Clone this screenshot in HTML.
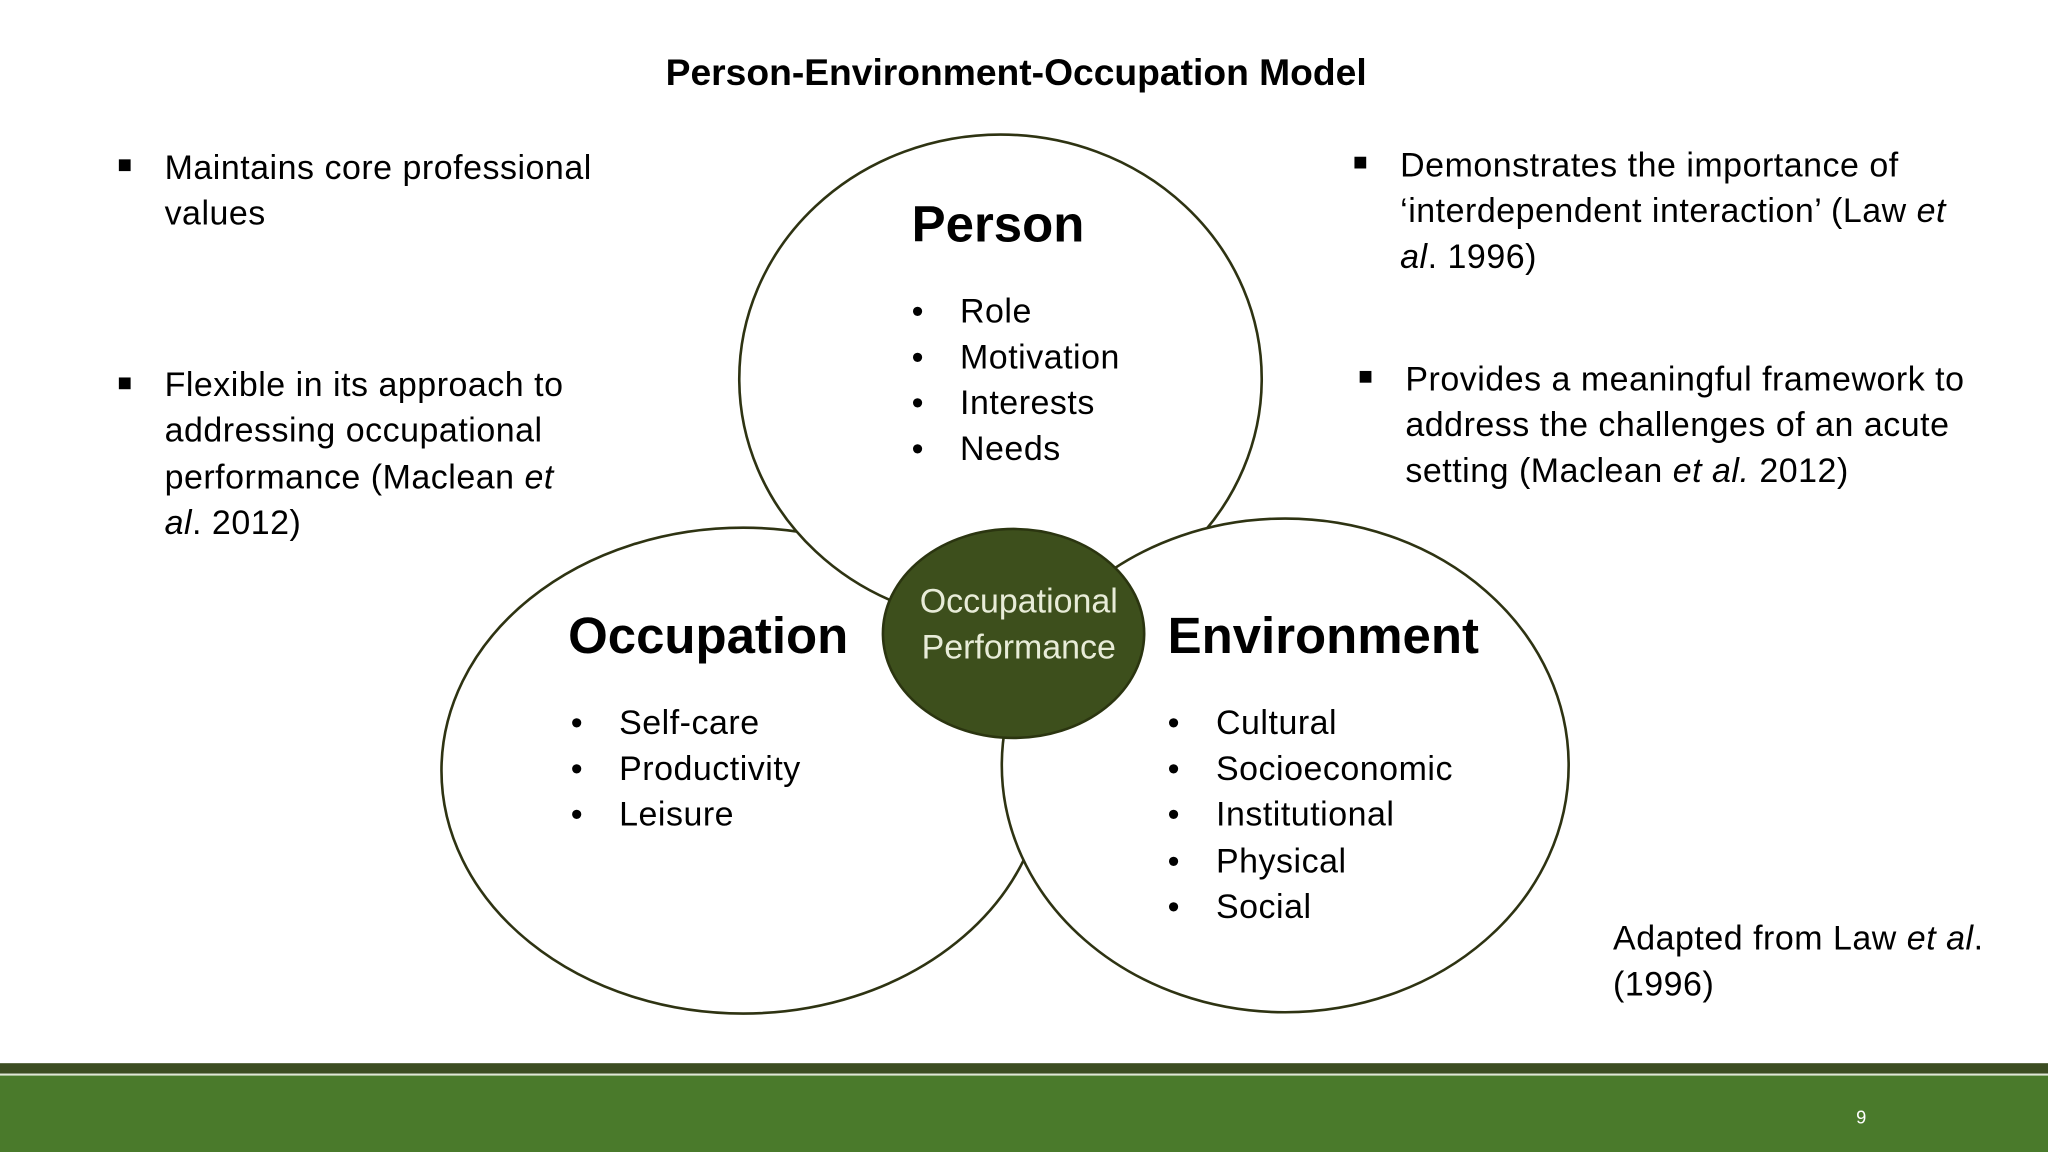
<!DOCTYPE html>
<html><head><meta charset="utf-8"><style>
html,body{margin:0;padding:0;background:#fff;}
svg{display:block;}
text{font-family:"Liberation Sans",sans-serif;fill:#000;}
</style></head><body>
<svg width="2048" height="1152" viewBox="0 0 1568 882" preserveAspectRatio="none" xmlns="http://www.w3.org/2000/svg">
<rect width="1568" height="882" fill="#fff"/>
<text x="778" y="65" font-size="28.5" font-weight="bold" text-anchor="middle">Person-Environment-Occupation Model</text>

<g fill="#fff" stroke="#2e3312" stroke-width="2">
<ellipse cx="569" cy="590" rx="231" ry="186"/>
<ellipse cx="766" cy="290" rx="200" ry="187"/>
<ellipse cx="984" cy="586" rx="217" ry="189"/>
</g>
<ellipse cx="776" cy="485" rx="100" ry="80" fill="#3d4f1c" stroke="#2b3510" stroke-width="2"/>
<text x="780" y="469" font-size="26" text-anchor="middle" style="fill:#e8ecd8">Occupational</text>
<text x="780" y="504" font-size="26" text-anchor="middle" style="fill:#e8ecd8">Performance</text>

<g font-size="26" letter-spacing="0.4">
<text x="698" y="185" font-size="39" font-weight="bold" letter-spacing="0">Person</text>
<text x="698" y="247">•</text><text x="735" y="247">Role</text>
<text x="698" y="282">•</text><text x="735" y="282">Motivation</text>
<text x="698" y="317">•</text><text x="735" y="317">Interests</text>
<text x="698" y="352">•</text><text x="735" y="352">Needs</text>

<text x="435" y="500" font-size="39" font-weight="bold" letter-spacing="0">Occupation</text>
<text x="437" y="562">•</text><text x="474" y="562">Self-care</text>
<text x="437" y="597">•</text><text x="474" y="597">Productivity</text>
<text x="437" y="632">•</text><text x="474" y="632">Leisure</text>

<text x="894" y="500" font-size="39" font-weight="bold" letter-spacing="0">Environment</text>
<text x="894" y="562">•</text><text x="931" y="562">Cultural</text>
<text x="894" y="597">•</text><text x="931" y="597">Socioeconomic</text>
<text x="894" y="632">•</text><text x="931" y="632">Institutional</text>
<text x="894" y="668">•</text><text x="931" y="668">Physical</text>
<text x="894" y="703">•</text><text x="931" y="703">Social</text>

<rect x="91" y="122" width="9" height="9" fill="#000"/>
<text x="126" y="137">Maintains core professional</text>
<text x="126" y="172">values</text>

<rect x="91" y="289" width="9" height="9" fill="#000"/>
<text x="126" y="303">Flexible in its approach to</text>
<text x="126" y="338">addressing occupational</text>
<text x="126" y="374">performance (Maclean <tspan font-style="italic">et</tspan></text>
<text x="126" y="409"><tspan font-style="italic">al</tspan>. 2012)</text>

<rect x="1037" y="120" width="9" height="9" fill="#000"/>
<text x="1072" y="135">Demonstrates the importance of</text>
<text x="1072" y="170">‘interdependent interaction’ (Law <tspan font-style="italic">et</tspan></text>
<text x="1072" y="205"><tspan font-style="italic">al</tspan>. 1996)</text>

<rect x="1041" y="284" width="9" height="9" fill="#000"/>
<text x="1076" y="299">Provides a meaningful framework to</text>
<text x="1076" y="334">address the challenges of an acute</text>
<text x="1076" y="369">setting (Maclean <tspan font-style="italic">et al.</tspan> 2012)</text>

<text x="1235" y="727">Adapted from Law <tspan font-style="italic">et al</tspan>.</text>
<text x="1235" y="762">(1996)</text>
</g>

<rect x="0" y="814" width="1568" height="8" fill="#3c4d22"/>
<rect x="0" y="822" width="1568" height="1.5" fill="#dfe6d5"/>
<rect x="0" y="823.5" width="1568" height="58.5" fill="#4a7a2b"/>
<text x="1425" y="860" font-size="14" text-anchor="middle" style="fill:#fff">9</text>
</svg>
</body></html>
